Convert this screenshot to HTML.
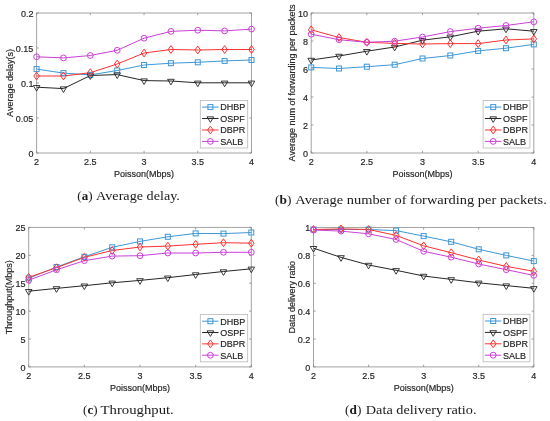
<!DOCTYPE html>
<html><head><meta charset="utf-8"><title>Figure</title>
<style>
html,body{margin:0;padding:0;background:#fff;}
body{width:550px;height:421px;overflow:hidden;}
svg{display:block;will-change:transform;}
svg text{font-family:"Liberation Sans", sans-serif;font-size:9px;fill:#262626;stroke:#262626;stroke-width:0.18px;}
</style></head>
<body>
<svg width="550" height="421" viewBox="0 0 550 421">
<rect width="550" height="421" fill="#fff"/>
<rect x="36.6" y="13" width="214.9" height="140" fill="none" stroke="#a4a4a4" stroke-width="1"/>
<path d="M36.6 153v-2.2M36.6 13v2.2M90.33 153v-2.2M90.33 13v2.2M144.05 153v-2.2M144.05 13v2.2M197.78 153v-2.2M197.78 13v2.2M251.5 153v-2.2M251.5 13v2.2M36.6 153h2.2M251.5 153h-2.2M36.6 118h2.2M251.5 118h-2.2M36.6 83h2.2M251.5 83h-2.2M36.6 48h2.2M251.5 48h-2.2M36.6 13h2.2M251.5 13h-2.2" stroke="#888" stroke-width="0.8" fill="none"/>
<text x="33.4" y="156.9" text-anchor="end">0</text>
<text x="33.4" y="121.9" text-anchor="end">0.05</text>
<text x="33.4" y="86.9" text-anchor="end">0.1</text>
<text x="33.4" y="51.9" text-anchor="end">0.15</text>
<text x="33.4" y="16.9" text-anchor="end">0.2</text>
<text x="36.6" y="165" text-anchor="middle">2</text>
<text x="90.33" y="165" text-anchor="middle">2.5</text>
<text x="144.05" y="165" text-anchor="middle">3</text>
<text x="197.78" y="165" text-anchor="middle">3.5</text>
<text x="251.5" y="165" text-anchor="middle">4</text>
<text x="144.05" y="176.8" text-anchor="middle">Poisson(Mbps)</text>
<text transform="translate(12.5 83) rotate(-90)" text-anchor="middle">Average delay(s)</text>
<polyline points="36.6,69.1 63.46,73.1 90.33,74.9 117.19,70.5 144.05,65 170.91,63.2 197.78,62.3 224.64,60.9 251.5,60" fill="none" stroke="#3d97d6" stroke-width="1"/>
<polyline points="36.6,87.2 63.46,88.6 90.33,75.5 117.19,74.6 144.05,80.6 170.91,81 197.78,82.8 224.64,82.8 251.5,82.8" fill="none" stroke="#262626" stroke-width="1"/>
<polyline points="36.6,76 63.46,76 90.33,72.7 117.19,64 144.05,53 170.91,49.5 197.78,50 224.64,49.5 251.5,49.5" fill="none" stroke="#ff3030" stroke-width="1"/>
<polyline points="36.6,56.8 63.46,57.9 90.33,55.5 117.19,50.3 144.05,38.2 170.91,31.4 197.78,30.2 224.64,30.9 251.5,29.1" fill="none" stroke="#cc3fd8" stroke-width="1"/>
<rect x="34.1" y="66.6" width="5" height="5" fill="none" stroke="#3d97d6" stroke-width="1"/>
<rect x="60.96" y="70.6" width="5" height="5" fill="none" stroke="#3d97d6" stroke-width="1"/>
<rect x="87.83" y="72.4" width="5" height="5" fill="none" stroke="#3d97d6" stroke-width="1"/>
<rect x="114.69" y="68" width="5" height="5" fill="none" stroke="#3d97d6" stroke-width="1"/>
<rect x="141.55" y="62.5" width="5" height="5" fill="none" stroke="#3d97d6" stroke-width="1"/>
<rect x="168.41" y="60.7" width="5" height="5" fill="none" stroke="#3d97d6" stroke-width="1"/>
<rect x="195.28" y="59.8" width="5" height="5" fill="none" stroke="#3d97d6" stroke-width="1"/>
<rect x="222.14" y="58.4" width="5" height="5" fill="none" stroke="#3d97d6" stroke-width="1"/>
<rect x="249" y="57.5" width="5" height="5" fill="none" stroke="#3d97d6" stroke-width="1"/>
<path d="M33.3 85.5H39.9L36.6 91.1Z" fill="none" stroke="#262626" stroke-width="0.9" stroke-linejoin="miter"/>
<path d="M60.16 86.9H66.76L63.46 92.5Z" fill="none" stroke="#262626" stroke-width="0.9" stroke-linejoin="miter"/>
<path d="M87.03 73.8H93.62L90.33 79.4Z" fill="none" stroke="#262626" stroke-width="0.9" stroke-linejoin="miter"/>
<path d="M113.89 72.9H120.49L117.19 78.5Z" fill="none" stroke="#262626" stroke-width="0.9" stroke-linejoin="miter"/>
<path d="M140.75 78.9H147.35L144.05 84.5Z" fill="none" stroke="#262626" stroke-width="0.9" stroke-linejoin="miter"/>
<path d="M167.61 79.3H174.21L170.91 84.9Z" fill="none" stroke="#262626" stroke-width="0.9" stroke-linejoin="miter"/>
<path d="M194.47 81.1H201.08L197.78 86.7Z" fill="none" stroke="#262626" stroke-width="0.9" stroke-linejoin="miter"/>
<path d="M221.34 81.1H227.94L224.64 86.7Z" fill="none" stroke="#262626" stroke-width="0.9" stroke-linejoin="miter"/>
<path d="M248.2 81.1H254.8L251.5 86.7Z" fill="none" stroke="#262626" stroke-width="0.9" stroke-linejoin="miter"/>
<path d="M36.6 72.1L39.4 76L36.6 79.9L33.8 76Z" fill="none" stroke="#ff3030" stroke-width="1"/>
<path d="M63.46 72.1L66.26 76L63.46 79.9L60.66 76Z" fill="none" stroke="#ff3030" stroke-width="1"/>
<path d="M90.33 68.8L93.12 72.7L90.33 76.6L87.53 72.7Z" fill="none" stroke="#ff3030" stroke-width="1"/>
<path d="M117.19 60.1L119.99 64L117.19 67.9L114.39 64Z" fill="none" stroke="#ff3030" stroke-width="1"/>
<path d="M144.05 49.1L146.85 53L144.05 56.9L141.25 53Z" fill="none" stroke="#ff3030" stroke-width="1"/>
<path d="M170.91 45.6L173.71 49.5L170.91 53.4L168.11 49.5Z" fill="none" stroke="#ff3030" stroke-width="1"/>
<path d="M197.78 46.1L200.58 50L197.78 53.9L194.97 50Z" fill="none" stroke="#ff3030" stroke-width="1"/>
<path d="M224.64 45.6L227.44 49.5L224.64 53.4L221.84 49.5Z" fill="none" stroke="#ff3030" stroke-width="1"/>
<path d="M251.5 45.6L254.3 49.5L251.5 53.4L248.7 49.5Z" fill="none" stroke="#ff3030" stroke-width="1"/>
<circle cx="36.6" cy="56.8" r="2.9" fill="none" stroke="#cc3fd8" stroke-width="1"/>
<circle cx="63.46" cy="57.9" r="2.9" fill="none" stroke="#cc3fd8" stroke-width="1"/>
<circle cx="90.33" cy="55.5" r="2.9" fill="none" stroke="#cc3fd8" stroke-width="1"/>
<circle cx="117.19" cy="50.3" r="2.9" fill="none" stroke="#cc3fd8" stroke-width="1"/>
<circle cx="144.05" cy="38.2" r="2.9" fill="none" stroke="#cc3fd8" stroke-width="1"/>
<circle cx="170.91" cy="31.4" r="2.9" fill="none" stroke="#cc3fd8" stroke-width="1"/>
<circle cx="197.78" cy="30.2" r="2.9" fill="none" stroke="#cc3fd8" stroke-width="1"/>
<circle cx="224.64" cy="30.9" r="2.9" fill="none" stroke="#cc3fd8" stroke-width="1"/>
<circle cx="251.5" cy="29.1" r="2.9" fill="none" stroke="#cc3fd8" stroke-width="1"/>
<rect x="200.3" y="100.4" width="47.4" height="47.6" fill="#fff" stroke="#b8b8b8" stroke-width="0.8"/>
<line x1="202.1" y1="107.1" x2="218.5" y2="107.1" stroke="#3d97d6" stroke-width="1"/>
<rect x="207.9" y="104.6" width="5" height="5" fill="none" stroke="#3d97d6" stroke-width="1"/>
<text x="220.3" y="110.4">DHBP</text>
<line x1="202.1" y1="118.53" x2="218.5" y2="118.53" stroke="#262626" stroke-width="1"/>
<path d="M207.1 116.83H213.7L210.4 122.43Z" fill="none" stroke="#262626" stroke-width="0.9" stroke-linejoin="miter"/>
<text x="220.3" y="121.83">OSPF</text>
<line x1="202.1" y1="129.97" x2="218.5" y2="129.97" stroke="#ff3030" stroke-width="1"/>
<path d="M210.4 126.07L213.2 129.97L210.4 133.87L207.6 129.97Z" fill="none" stroke="#ff3030" stroke-width="1"/>
<text x="220.3" y="133.27">DBPR</text>
<line x1="202.1" y1="141.4" x2="218.5" y2="141.4" stroke="#cc3fd8" stroke-width="1"/>
<circle cx="210.4" cy="141.4" r="2.9" fill="none" stroke="#cc3fd8" stroke-width="1"/>
<text x="220.3" y="144.7">SALB</text>
<text x="77.3" y="200" textLength="15.2" lengthAdjust="spacingAndGlyphs" style="font-family:'Liberation Serif', serif;font-size:13.3px;fill:#1a1a1a;stroke:none">(<tspan font-weight="bold">a</tspan>)</text>
<text x="96.1" y="200" textLength="83.8" lengthAdjust="spacingAndGlyphs" style="font-family:'Liberation Serif', serif;font-size:13.3px;fill:#1a1a1a;stroke:none">Average delay.</text>
<rect x="311.2" y="13" width="222.6" height="140" fill="none" stroke="#a4a4a4" stroke-width="1"/>
<path d="M311.2 153v-2.2M311.2 13v2.2M366.85 153v-2.2M366.85 13v2.2M422.5 153v-2.2M422.5 13v2.2M478.15 153v-2.2M478.15 13v2.2M533.8 153v-2.2M533.8 13v2.2M311.2 153h2.2M533.8 153h-2.2M311.2 125h2.2M533.8 125h-2.2M311.2 97h2.2M533.8 97h-2.2M311.2 69h2.2M533.8 69h-2.2M311.2 41h2.2M533.8 41h-2.2M311.2 13h2.2M533.8 13h-2.2" stroke="#888" stroke-width="0.8" fill="none"/>
<text x="308" y="156.9" text-anchor="end">0</text>
<text x="308" y="128.9" text-anchor="end">2</text>
<text x="308" y="100.9" text-anchor="end">4</text>
<text x="308" y="72.9" text-anchor="end">6</text>
<text x="308" y="44.9" text-anchor="end">8</text>
<text x="308" y="16.9" text-anchor="end">10</text>
<text x="311.2" y="165" text-anchor="middle">2</text>
<text x="366.85" y="165" text-anchor="middle">2.5</text>
<text x="422.5" y="165" text-anchor="middle">3</text>
<text x="478.15" y="165" text-anchor="middle">3.5</text>
<text x="533.8" y="165" text-anchor="middle">4</text>
<text x="422.5" y="176.8" text-anchor="middle">Poisson(Mbps)</text>
<text transform="translate(294.8 83) rotate(-90)" text-anchor="middle">Average num of forwarding per packets</text>
<polyline points="311.2,67.4 339.02,68.5 366.85,66.7 394.67,64.7 422.5,58.5 450.32,55.5 478.15,50.9 505.97,48.2 533.8,44.4" fill="none" stroke="#3d97d6" stroke-width="1"/>
<polyline points="311.2,60 339.02,56 366.85,51.2 394.67,47 422.5,40.2 450.32,36.8 478.15,31.2 505.97,28.8 533.8,31.2" fill="none" stroke="#262626" stroke-width="1"/>
<polyline points="311.2,29.8 339.02,37.5 366.85,42.3 394.67,43.4 422.5,44 450.32,43.6 478.15,43.6 505.97,40 533.8,38.9" fill="none" stroke="#ff3030" stroke-width="1"/>
<polyline points="311.2,34.2 339.02,39.7 366.85,42.3 394.67,41.2 422.5,37 450.32,31.6 478.15,28.2 505.97,25.5 533.8,21.8" fill="none" stroke="#cc3fd8" stroke-width="1"/>
<rect x="308.7" y="64.9" width="5" height="5" fill="none" stroke="#3d97d6" stroke-width="1"/>
<rect x="336.52" y="66" width="5" height="5" fill="none" stroke="#3d97d6" stroke-width="1"/>
<rect x="364.35" y="64.2" width="5" height="5" fill="none" stroke="#3d97d6" stroke-width="1"/>
<rect x="392.17" y="62.2" width="5" height="5" fill="none" stroke="#3d97d6" stroke-width="1"/>
<rect x="420" y="56" width="5" height="5" fill="none" stroke="#3d97d6" stroke-width="1"/>
<rect x="447.82" y="53" width="5" height="5" fill="none" stroke="#3d97d6" stroke-width="1"/>
<rect x="475.65" y="48.4" width="5" height="5" fill="none" stroke="#3d97d6" stroke-width="1"/>
<rect x="503.47" y="45.7" width="5" height="5" fill="none" stroke="#3d97d6" stroke-width="1"/>
<rect x="531.3" y="41.9" width="5" height="5" fill="none" stroke="#3d97d6" stroke-width="1"/>
<path d="M307.9 58.3H314.5L311.2 63.9Z" fill="none" stroke="#262626" stroke-width="0.9" stroke-linejoin="miter"/>
<path d="M335.72 54.3H342.32L339.02 59.9Z" fill="none" stroke="#262626" stroke-width="0.9" stroke-linejoin="miter"/>
<path d="M363.55 49.5H370.15L366.85 55.1Z" fill="none" stroke="#262626" stroke-width="0.9" stroke-linejoin="miter"/>
<path d="M391.37 45.3H397.97L394.67 50.9Z" fill="none" stroke="#262626" stroke-width="0.9" stroke-linejoin="miter"/>
<path d="M419.2 38.5H425.8L422.5 44.1Z" fill="none" stroke="#262626" stroke-width="0.9" stroke-linejoin="miter"/>
<path d="M447.02 35.1H453.62L450.32 40.7Z" fill="none" stroke="#262626" stroke-width="0.9" stroke-linejoin="miter"/>
<path d="M474.85 29.5H481.45L478.15 35.1Z" fill="none" stroke="#262626" stroke-width="0.9" stroke-linejoin="miter"/>
<path d="M502.67 27.1H509.27L505.97 32.7Z" fill="none" stroke="#262626" stroke-width="0.9" stroke-linejoin="miter"/>
<path d="M530.5 29.5H537.1L533.8 35.1Z" fill="none" stroke="#262626" stroke-width="0.9" stroke-linejoin="miter"/>
<path d="M311.2 25.9L314 29.8L311.2 33.7L308.4 29.8Z" fill="none" stroke="#ff3030" stroke-width="1"/>
<path d="M339.02 33.6L341.82 37.5L339.02 41.4L336.22 37.5Z" fill="none" stroke="#ff3030" stroke-width="1"/>
<path d="M366.85 38.4L369.65 42.3L366.85 46.2L364.05 42.3Z" fill="none" stroke="#ff3030" stroke-width="1"/>
<path d="M394.67 39.5L397.47 43.4L394.67 47.3L391.87 43.4Z" fill="none" stroke="#ff3030" stroke-width="1"/>
<path d="M422.5 40.1L425.3 44L422.5 47.9L419.7 44Z" fill="none" stroke="#ff3030" stroke-width="1"/>
<path d="M450.32 39.7L453.12 43.6L450.32 47.5L447.52 43.6Z" fill="none" stroke="#ff3030" stroke-width="1"/>
<path d="M478.15 39.7L480.95 43.6L478.15 47.5L475.35 43.6Z" fill="none" stroke="#ff3030" stroke-width="1"/>
<path d="M505.97 36.1L508.77 40L505.97 43.9L503.17 40Z" fill="none" stroke="#ff3030" stroke-width="1"/>
<path d="M533.8 35L536.6 38.9L533.8 42.8L531 38.9Z" fill="none" stroke="#ff3030" stroke-width="1"/>
<circle cx="311.2" cy="34.2" r="2.9" fill="none" stroke="#cc3fd8" stroke-width="1"/>
<circle cx="339.02" cy="39.7" r="2.9" fill="none" stroke="#cc3fd8" stroke-width="1"/>
<circle cx="366.85" cy="42.3" r="2.9" fill="none" stroke="#cc3fd8" stroke-width="1"/>
<circle cx="394.67" cy="41.2" r="2.9" fill="none" stroke="#cc3fd8" stroke-width="1"/>
<circle cx="422.5" cy="37" r="2.9" fill="none" stroke="#cc3fd8" stroke-width="1"/>
<circle cx="450.32" cy="31.6" r="2.9" fill="none" stroke="#cc3fd8" stroke-width="1"/>
<circle cx="478.15" cy="28.2" r="2.9" fill="none" stroke="#cc3fd8" stroke-width="1"/>
<circle cx="505.97" cy="25.5" r="2.9" fill="none" stroke="#cc3fd8" stroke-width="1"/>
<circle cx="533.8" cy="21.8" r="2.9" fill="none" stroke="#cc3fd8" stroke-width="1"/>
<rect x="483.1" y="100.4" width="46.8" height="47.6" fill="#fff" stroke="#b8b8b8" stroke-width="0.8"/>
<line x1="484.9" y1="107.1" x2="501.3" y2="107.1" stroke="#3d97d6" stroke-width="1"/>
<rect x="490.7" y="104.6" width="5" height="5" fill="none" stroke="#3d97d6" stroke-width="1"/>
<text x="503.1" y="110.4">DHBP</text>
<line x1="484.9" y1="118.53" x2="501.3" y2="118.53" stroke="#262626" stroke-width="1"/>
<path d="M489.9 116.83H496.5L493.2 122.43Z" fill="none" stroke="#262626" stroke-width="0.9" stroke-linejoin="miter"/>
<text x="503.1" y="121.83">OSPF</text>
<line x1="484.9" y1="129.97" x2="501.3" y2="129.97" stroke="#ff3030" stroke-width="1"/>
<path d="M493.2 126.07L496 129.97L493.2 133.87L490.4 129.97Z" fill="none" stroke="#ff3030" stroke-width="1"/>
<text x="503.1" y="133.27">DBPR</text>
<line x1="484.9" y1="141.4" x2="501.3" y2="141.4" stroke="#cc3fd8" stroke-width="1"/>
<circle cx="493.2" cy="141.4" r="2.9" fill="none" stroke="#cc3fd8" stroke-width="1"/>
<text x="503.1" y="144.7">SALB</text>
<text x="275.1" y="204.4" textLength="16.3" lengthAdjust="spacingAndGlyphs" style="font-family:'Liberation Serif', serif;font-size:13.3px;fill:#1a1a1a;stroke:none">(<tspan font-weight="bold">b</tspan>)</text>
<text x="295.3" y="204.4" textLength="251.5" lengthAdjust="spacingAndGlyphs" style="font-family:'Liberation Serif', serif;font-size:13.3px;fill:#1a1a1a;stroke:none">Average number of forwarding per packets.</text>
<rect x="28.7" y="227.4" width="222.6" height="139.5" fill="none" stroke="#a4a4a4" stroke-width="1"/>
<path d="M28.7 366.9v-2.2M28.7 227.4v2.2M84.35 366.9v-2.2M84.35 227.4v2.2M140 366.9v-2.2M140 227.4v2.2M195.65 366.9v-2.2M195.65 227.4v2.2M251.3 366.9v-2.2M251.3 227.4v2.2M28.7 366.9h2.2M251.3 366.9h-2.2M28.7 339h2.2M251.3 339h-2.2M28.7 311.1h2.2M251.3 311.1h-2.2M28.7 283.2h2.2M251.3 283.2h-2.2M28.7 255.3h2.2M251.3 255.3h-2.2M28.7 227.4h2.2M251.3 227.4h-2.2" stroke="#888" stroke-width="0.8" fill="none"/>
<text x="25.5" y="370.8" text-anchor="end">0</text>
<text x="25.5" y="342.9" text-anchor="end">5</text>
<text x="25.5" y="315" text-anchor="end">10</text>
<text x="25.5" y="287.1" text-anchor="end">15</text>
<text x="25.5" y="259.2" text-anchor="end">20</text>
<text x="25.5" y="231.3" text-anchor="end">25</text>
<text x="28.7" y="378.9" text-anchor="middle">2</text>
<text x="84.35" y="378.9" text-anchor="middle">2.5</text>
<text x="140" y="378.9" text-anchor="middle">3</text>
<text x="195.65" y="378.9" text-anchor="middle">3.5</text>
<text x="251.3" y="378.9" text-anchor="middle">4</text>
<text x="140" y="390.7" text-anchor="middle">Poisson(Mbps)</text>
<text transform="translate(12.3 297.15) rotate(-90)" text-anchor="middle">Throughput(Mbps)</text>
<polyline points="28.7,278.4 56.53,267 84.35,256.8 112.18,247.3 140,241.4 167.82,236.8 195.65,233.4 223.48,233.6 251.3,232.5" fill="none" stroke="#3d97d6" stroke-width="1"/>
<polyline points="28.7,291.2 56.53,288.4 84.35,285.7 112.18,282.8 140,280.4 167.82,277.7 195.65,274.5 223.48,271.5 251.3,268.8" fill="none" stroke="#262626" stroke-width="1"/>
<polyline points="28.7,277.3 56.53,267.7 84.35,257.3 112.18,250.5 140,247 167.82,246.1 195.65,244.3 223.48,242.7 251.3,243.2" fill="none" stroke="#ff3030" stroke-width="1"/>
<polyline points="28.7,280.2 56.53,269.8 84.35,260.7 112.18,256.1 140,255.7 167.82,253 195.65,253 223.48,252.3 251.3,252.3" fill="none" stroke="#cc3fd8" stroke-width="1"/>
<rect x="26.2" y="275.9" width="5" height="5" fill="none" stroke="#3d97d6" stroke-width="1"/>
<rect x="54.03" y="264.5" width="5" height="5" fill="none" stroke="#3d97d6" stroke-width="1"/>
<rect x="81.85" y="254.3" width="5" height="5" fill="none" stroke="#3d97d6" stroke-width="1"/>
<rect x="109.68" y="244.8" width="5" height="5" fill="none" stroke="#3d97d6" stroke-width="1"/>
<rect x="137.5" y="238.9" width="5" height="5" fill="none" stroke="#3d97d6" stroke-width="1"/>
<rect x="165.32" y="234.3" width="5" height="5" fill="none" stroke="#3d97d6" stroke-width="1"/>
<rect x="193.15" y="230.9" width="5" height="5" fill="none" stroke="#3d97d6" stroke-width="1"/>
<rect x="220.98" y="231.1" width="5" height="5" fill="none" stroke="#3d97d6" stroke-width="1"/>
<rect x="248.8" y="230" width="5" height="5" fill="none" stroke="#3d97d6" stroke-width="1"/>
<path d="M25.4 289.5H32L28.7 295.1Z" fill="none" stroke="#262626" stroke-width="0.9" stroke-linejoin="miter"/>
<path d="M53.23 286.7H59.83L56.53 292.3Z" fill="none" stroke="#262626" stroke-width="0.9" stroke-linejoin="miter"/>
<path d="M81.05 284H87.65L84.35 289.6Z" fill="none" stroke="#262626" stroke-width="0.9" stroke-linejoin="miter"/>
<path d="M108.88 281.1H115.48L112.18 286.7Z" fill="none" stroke="#262626" stroke-width="0.9" stroke-linejoin="miter"/>
<path d="M136.7 278.7H143.3L140 284.3Z" fill="none" stroke="#262626" stroke-width="0.9" stroke-linejoin="miter"/>
<path d="M164.52 276H171.12L167.82 281.6Z" fill="none" stroke="#262626" stroke-width="0.9" stroke-linejoin="miter"/>
<path d="M192.35 272.8H198.95L195.65 278.4Z" fill="none" stroke="#262626" stroke-width="0.9" stroke-linejoin="miter"/>
<path d="M220.18 269.8H226.78L223.48 275.4Z" fill="none" stroke="#262626" stroke-width="0.9" stroke-linejoin="miter"/>
<path d="M248 267.1H254.6L251.3 272.7Z" fill="none" stroke="#262626" stroke-width="0.9" stroke-linejoin="miter"/>
<path d="M28.7 273.4L31.5 277.3L28.7 281.2L25.9 277.3Z" fill="none" stroke="#ff3030" stroke-width="1"/>
<path d="M56.53 263.8L59.33 267.7L56.53 271.6L53.73 267.7Z" fill="none" stroke="#ff3030" stroke-width="1"/>
<path d="M84.35 253.4L87.15 257.3L84.35 261.2L81.55 257.3Z" fill="none" stroke="#ff3030" stroke-width="1"/>
<path d="M112.18 246.6L114.98 250.5L112.18 254.4L109.38 250.5Z" fill="none" stroke="#ff3030" stroke-width="1"/>
<path d="M140 243.1L142.8 247L140 250.9L137.2 247Z" fill="none" stroke="#ff3030" stroke-width="1"/>
<path d="M167.82 242.2L170.62 246.1L167.82 250L165.02 246.1Z" fill="none" stroke="#ff3030" stroke-width="1"/>
<path d="M195.65 240.4L198.45 244.3L195.65 248.2L192.85 244.3Z" fill="none" stroke="#ff3030" stroke-width="1"/>
<path d="M223.48 238.8L226.28 242.7L223.48 246.6L220.68 242.7Z" fill="none" stroke="#ff3030" stroke-width="1"/>
<path d="M251.3 239.3L254.1 243.2L251.3 247.1L248.5 243.2Z" fill="none" stroke="#ff3030" stroke-width="1"/>
<circle cx="28.7" cy="280.2" r="2.9" fill="none" stroke="#cc3fd8" stroke-width="1"/>
<circle cx="56.53" cy="269.8" r="2.9" fill="none" stroke="#cc3fd8" stroke-width="1"/>
<circle cx="84.35" cy="260.7" r="2.9" fill="none" stroke="#cc3fd8" stroke-width="1"/>
<circle cx="112.18" cy="256.1" r="2.9" fill="none" stroke="#cc3fd8" stroke-width="1"/>
<circle cx="140" cy="255.7" r="2.9" fill="none" stroke="#cc3fd8" stroke-width="1"/>
<circle cx="167.82" cy="253" r="2.9" fill="none" stroke="#cc3fd8" stroke-width="1"/>
<circle cx="195.65" cy="253" r="2.9" fill="none" stroke="#cc3fd8" stroke-width="1"/>
<circle cx="223.48" cy="252.3" r="2.9" fill="none" stroke="#cc3fd8" stroke-width="1"/>
<circle cx="251.3" cy="252.3" r="2.9" fill="none" stroke="#cc3fd8" stroke-width="1"/>
<rect x="200.3" y="314.5" width="47.4" height="47.3" fill="#fff" stroke="#b8b8b8" stroke-width="0.8"/>
<line x1="202.1" y1="321.2" x2="218.5" y2="321.2" stroke="#3d97d6" stroke-width="1"/>
<rect x="207.9" y="318.7" width="5" height="5" fill="none" stroke="#3d97d6" stroke-width="1"/>
<text x="220.3" y="324.5">DHBP</text>
<line x1="202.1" y1="332.53" x2="218.5" y2="332.53" stroke="#262626" stroke-width="1"/>
<path d="M207.1 330.83H213.7L210.4 336.43Z" fill="none" stroke="#262626" stroke-width="0.9" stroke-linejoin="miter"/>
<text x="220.3" y="335.83">OSPF</text>
<line x1="202.1" y1="343.87" x2="218.5" y2="343.87" stroke="#ff3030" stroke-width="1"/>
<path d="M210.4 339.97L213.2 343.87L210.4 347.77L207.6 343.87Z" fill="none" stroke="#ff3030" stroke-width="1"/>
<text x="220.3" y="347.17">DBPR</text>
<line x1="202.1" y1="355.2" x2="218.5" y2="355.2" stroke="#cc3fd8" stroke-width="1"/>
<circle cx="210.4" cy="355.2" r="2.9" fill="none" stroke="#cc3fd8" stroke-width="1"/>
<text x="220.3" y="358.5">SALB</text>
<text x="83.1" y="414.3" textLength="14.4" lengthAdjust="spacingAndGlyphs" style="font-family:'Liberation Serif', serif;font-size:13.3px;fill:#1a1a1a;stroke:none">(<tspan font-weight="bold">c</tspan>)</text>
<text x="100.5" y="414.3" textLength="73.3" lengthAdjust="spacingAndGlyphs" style="font-family:'Liberation Serif', serif;font-size:13.3px;fill:#1a1a1a;stroke:none">Throughput.</text>
<rect x="313.5" y="227.5" width="220.3" height="139.4" fill="none" stroke="#a4a4a4" stroke-width="1"/>
<path d="M313.5 366.9v-2.2M313.5 227.5v2.2M368.57 366.9v-2.2M368.57 227.5v2.2M423.65 366.9v-2.2M423.65 227.5v2.2M478.72 366.9v-2.2M478.72 227.5v2.2M533.8 366.9v-2.2M533.8 227.5v2.2M313.5 366.9h2.2M533.8 366.9h-2.2M313.5 339.02h2.2M533.8 339.02h-2.2M313.5 311.14h2.2M533.8 311.14h-2.2M313.5 283.26h2.2M533.8 283.26h-2.2M313.5 255.38h2.2M533.8 255.38h-2.2M313.5 227.5h2.2M533.8 227.5h-2.2" stroke="#888" stroke-width="0.8" fill="none"/>
<text x="310.3" y="370.8" text-anchor="end">0</text>
<text x="310.3" y="342.92" text-anchor="end">0.2</text>
<text x="310.3" y="315.04" text-anchor="end">0.4</text>
<text x="310.3" y="287.16" text-anchor="end">0.6</text>
<text x="310.3" y="259.28" text-anchor="end">0.8</text>
<text x="310.3" y="231.4" text-anchor="end">1</text>
<text x="313.5" y="378.9" text-anchor="middle">2</text>
<text x="368.57" y="378.9" text-anchor="middle">2.5</text>
<text x="423.65" y="378.9" text-anchor="middle">3</text>
<text x="478.72" y="378.9" text-anchor="middle">3.5</text>
<text x="533.8" y="378.9" text-anchor="middle">4</text>
<text x="423.65" y="390.7" text-anchor="middle">Poisson(Mbps)</text>
<text transform="translate(295.2 297.2) rotate(-90)" text-anchor="middle">Data delivery ratio</text>
<polyline points="313.5,229.5 341.04,229.5 368.57,229.5 396.11,230.6 423.65,236.1 451.19,241.8 478.72,249.3 506.26,255.4 533.8,261.1" fill="none" stroke="#3d97d6" stroke-width="1"/>
<polyline points="313.5,248.2 341.04,257.4 368.57,265 396.11,270.3 423.65,276 451.19,279.4 478.72,282.8 506.26,285.6 533.8,288.3" fill="none" stroke="#262626" stroke-width="1"/>
<polyline points="313.5,229.5 341.04,228.9 368.57,229.5 396.11,235.4 423.65,245.8 451.19,252.7 478.72,260 506.26,266.4 533.8,271.3" fill="none" stroke="#ff3030" stroke-width="1"/>
<polyline points="313.5,230 341.04,231.1 368.57,233.8 396.11,239.5 423.65,251.3 451.19,257.2 478.72,264 506.26,269.7 533.8,275.4" fill="none" stroke="#cc3fd8" stroke-width="1"/>
<rect x="311" y="227" width="5" height="5" fill="none" stroke="#3d97d6" stroke-width="1"/>
<rect x="338.54" y="227" width="5" height="5" fill="none" stroke="#3d97d6" stroke-width="1"/>
<rect x="366.07" y="227" width="5" height="5" fill="none" stroke="#3d97d6" stroke-width="1"/>
<rect x="393.61" y="228.1" width="5" height="5" fill="none" stroke="#3d97d6" stroke-width="1"/>
<rect x="421.15" y="233.6" width="5" height="5" fill="none" stroke="#3d97d6" stroke-width="1"/>
<rect x="448.69" y="239.3" width="5" height="5" fill="none" stroke="#3d97d6" stroke-width="1"/>
<rect x="476.22" y="246.8" width="5" height="5" fill="none" stroke="#3d97d6" stroke-width="1"/>
<rect x="503.76" y="252.9" width="5" height="5" fill="none" stroke="#3d97d6" stroke-width="1"/>
<rect x="531.3" y="258.6" width="5" height="5" fill="none" stroke="#3d97d6" stroke-width="1"/>
<path d="M310.2 246.5H316.8L313.5 252.1Z" fill="none" stroke="#262626" stroke-width="0.9" stroke-linejoin="miter"/>
<path d="M337.74 255.7H344.34L341.04 261.3Z" fill="none" stroke="#262626" stroke-width="0.9" stroke-linejoin="miter"/>
<path d="M365.27 263.3H371.88L368.57 268.9Z" fill="none" stroke="#262626" stroke-width="0.9" stroke-linejoin="miter"/>
<path d="M392.81 268.6H399.41L396.11 274.2Z" fill="none" stroke="#262626" stroke-width="0.9" stroke-linejoin="miter"/>
<path d="M420.35 274.3H426.95L423.65 279.9Z" fill="none" stroke="#262626" stroke-width="0.9" stroke-linejoin="miter"/>
<path d="M447.89 277.7H454.49L451.19 283.3Z" fill="none" stroke="#262626" stroke-width="0.9" stroke-linejoin="miter"/>
<path d="M475.42 281.1H482.02L478.72 286.7Z" fill="none" stroke="#262626" stroke-width="0.9" stroke-linejoin="miter"/>
<path d="M502.96 283.9H509.56L506.26 289.5Z" fill="none" stroke="#262626" stroke-width="0.9" stroke-linejoin="miter"/>
<path d="M530.5 286.6H537.1L533.8 292.2Z" fill="none" stroke="#262626" stroke-width="0.9" stroke-linejoin="miter"/>
<path d="M313.5 225.6L316.3 229.5L313.5 233.4L310.7 229.5Z" fill="none" stroke="#ff3030" stroke-width="1"/>
<path d="M341.04 225L343.84 228.9L341.04 232.8L338.24 228.9Z" fill="none" stroke="#ff3030" stroke-width="1"/>
<path d="M368.57 225.6L371.38 229.5L368.57 233.4L365.77 229.5Z" fill="none" stroke="#ff3030" stroke-width="1"/>
<path d="M396.11 231.5L398.91 235.4L396.11 239.3L393.31 235.4Z" fill="none" stroke="#ff3030" stroke-width="1"/>
<path d="M423.65 241.9L426.45 245.8L423.65 249.7L420.85 245.8Z" fill="none" stroke="#ff3030" stroke-width="1"/>
<path d="M451.19 248.8L453.99 252.7L451.19 256.6L448.39 252.7Z" fill="none" stroke="#ff3030" stroke-width="1"/>
<path d="M478.72 256.1L481.52 260L478.72 263.9L475.92 260Z" fill="none" stroke="#ff3030" stroke-width="1"/>
<path d="M506.26 262.5L509.06 266.4L506.26 270.3L503.46 266.4Z" fill="none" stroke="#ff3030" stroke-width="1"/>
<path d="M533.8 267.4L536.6 271.3L533.8 275.2L531 271.3Z" fill="none" stroke="#ff3030" stroke-width="1"/>
<circle cx="313.5" cy="230" r="2.9" fill="none" stroke="#cc3fd8" stroke-width="1"/>
<circle cx="341.04" cy="231.1" r="2.9" fill="none" stroke="#cc3fd8" stroke-width="1"/>
<circle cx="368.57" cy="233.8" r="2.9" fill="none" stroke="#cc3fd8" stroke-width="1"/>
<circle cx="396.11" cy="239.5" r="2.9" fill="none" stroke="#cc3fd8" stroke-width="1"/>
<circle cx="423.65" cy="251.3" r="2.9" fill="none" stroke="#cc3fd8" stroke-width="1"/>
<circle cx="451.19" cy="257.2" r="2.9" fill="none" stroke="#cc3fd8" stroke-width="1"/>
<circle cx="478.72" cy="264" r="2.9" fill="none" stroke="#cc3fd8" stroke-width="1"/>
<circle cx="506.26" cy="269.7" r="2.9" fill="none" stroke="#cc3fd8" stroke-width="1"/>
<circle cx="533.8" cy="275.4" r="2.9" fill="none" stroke="#cc3fd8" stroke-width="1"/>
<rect x="483.1" y="314.3" width="46.8" height="47.5" fill="#fff" stroke="#b8b8b8" stroke-width="0.8"/>
<line x1="484.9" y1="321" x2="501.3" y2="321" stroke="#3d97d6" stroke-width="1"/>
<rect x="490.7" y="318.5" width="5" height="5" fill="none" stroke="#3d97d6" stroke-width="1"/>
<text x="503.1" y="324.3">DHBP</text>
<line x1="484.9" y1="332.4" x2="501.3" y2="332.4" stroke="#262626" stroke-width="1"/>
<path d="M489.9 330.7H496.5L493.2 336.3Z" fill="none" stroke="#262626" stroke-width="0.9" stroke-linejoin="miter"/>
<text x="503.1" y="335.7">OSPF</text>
<line x1="484.9" y1="343.8" x2="501.3" y2="343.8" stroke="#ff3030" stroke-width="1"/>
<path d="M493.2 339.9L496 343.8L493.2 347.7L490.4 343.8Z" fill="none" stroke="#ff3030" stroke-width="1"/>
<text x="503.1" y="347.1">DBPR</text>
<line x1="484.9" y1="355.2" x2="501.3" y2="355.2" stroke="#cc3fd8" stroke-width="1"/>
<circle cx="493.2" cy="355.2" r="2.9" fill="none" stroke="#cc3fd8" stroke-width="1"/>
<text x="503.1" y="358.5">SALB</text>
<text x="345.1" y="414.4" textLength="16.3" lengthAdjust="spacingAndGlyphs" style="font-family:'Liberation Serif', serif;font-size:13.3px;fill:#1a1a1a;stroke:none">(<tspan font-weight="bold">d</tspan>)</text>
<text x="365.8" y="414.4" textLength="110.7" lengthAdjust="spacingAndGlyphs" style="font-family:'Liberation Serif', serif;font-size:13.3px;fill:#1a1a1a;stroke:none">Data delivery ratio.</text>
</svg>
</body></html>
